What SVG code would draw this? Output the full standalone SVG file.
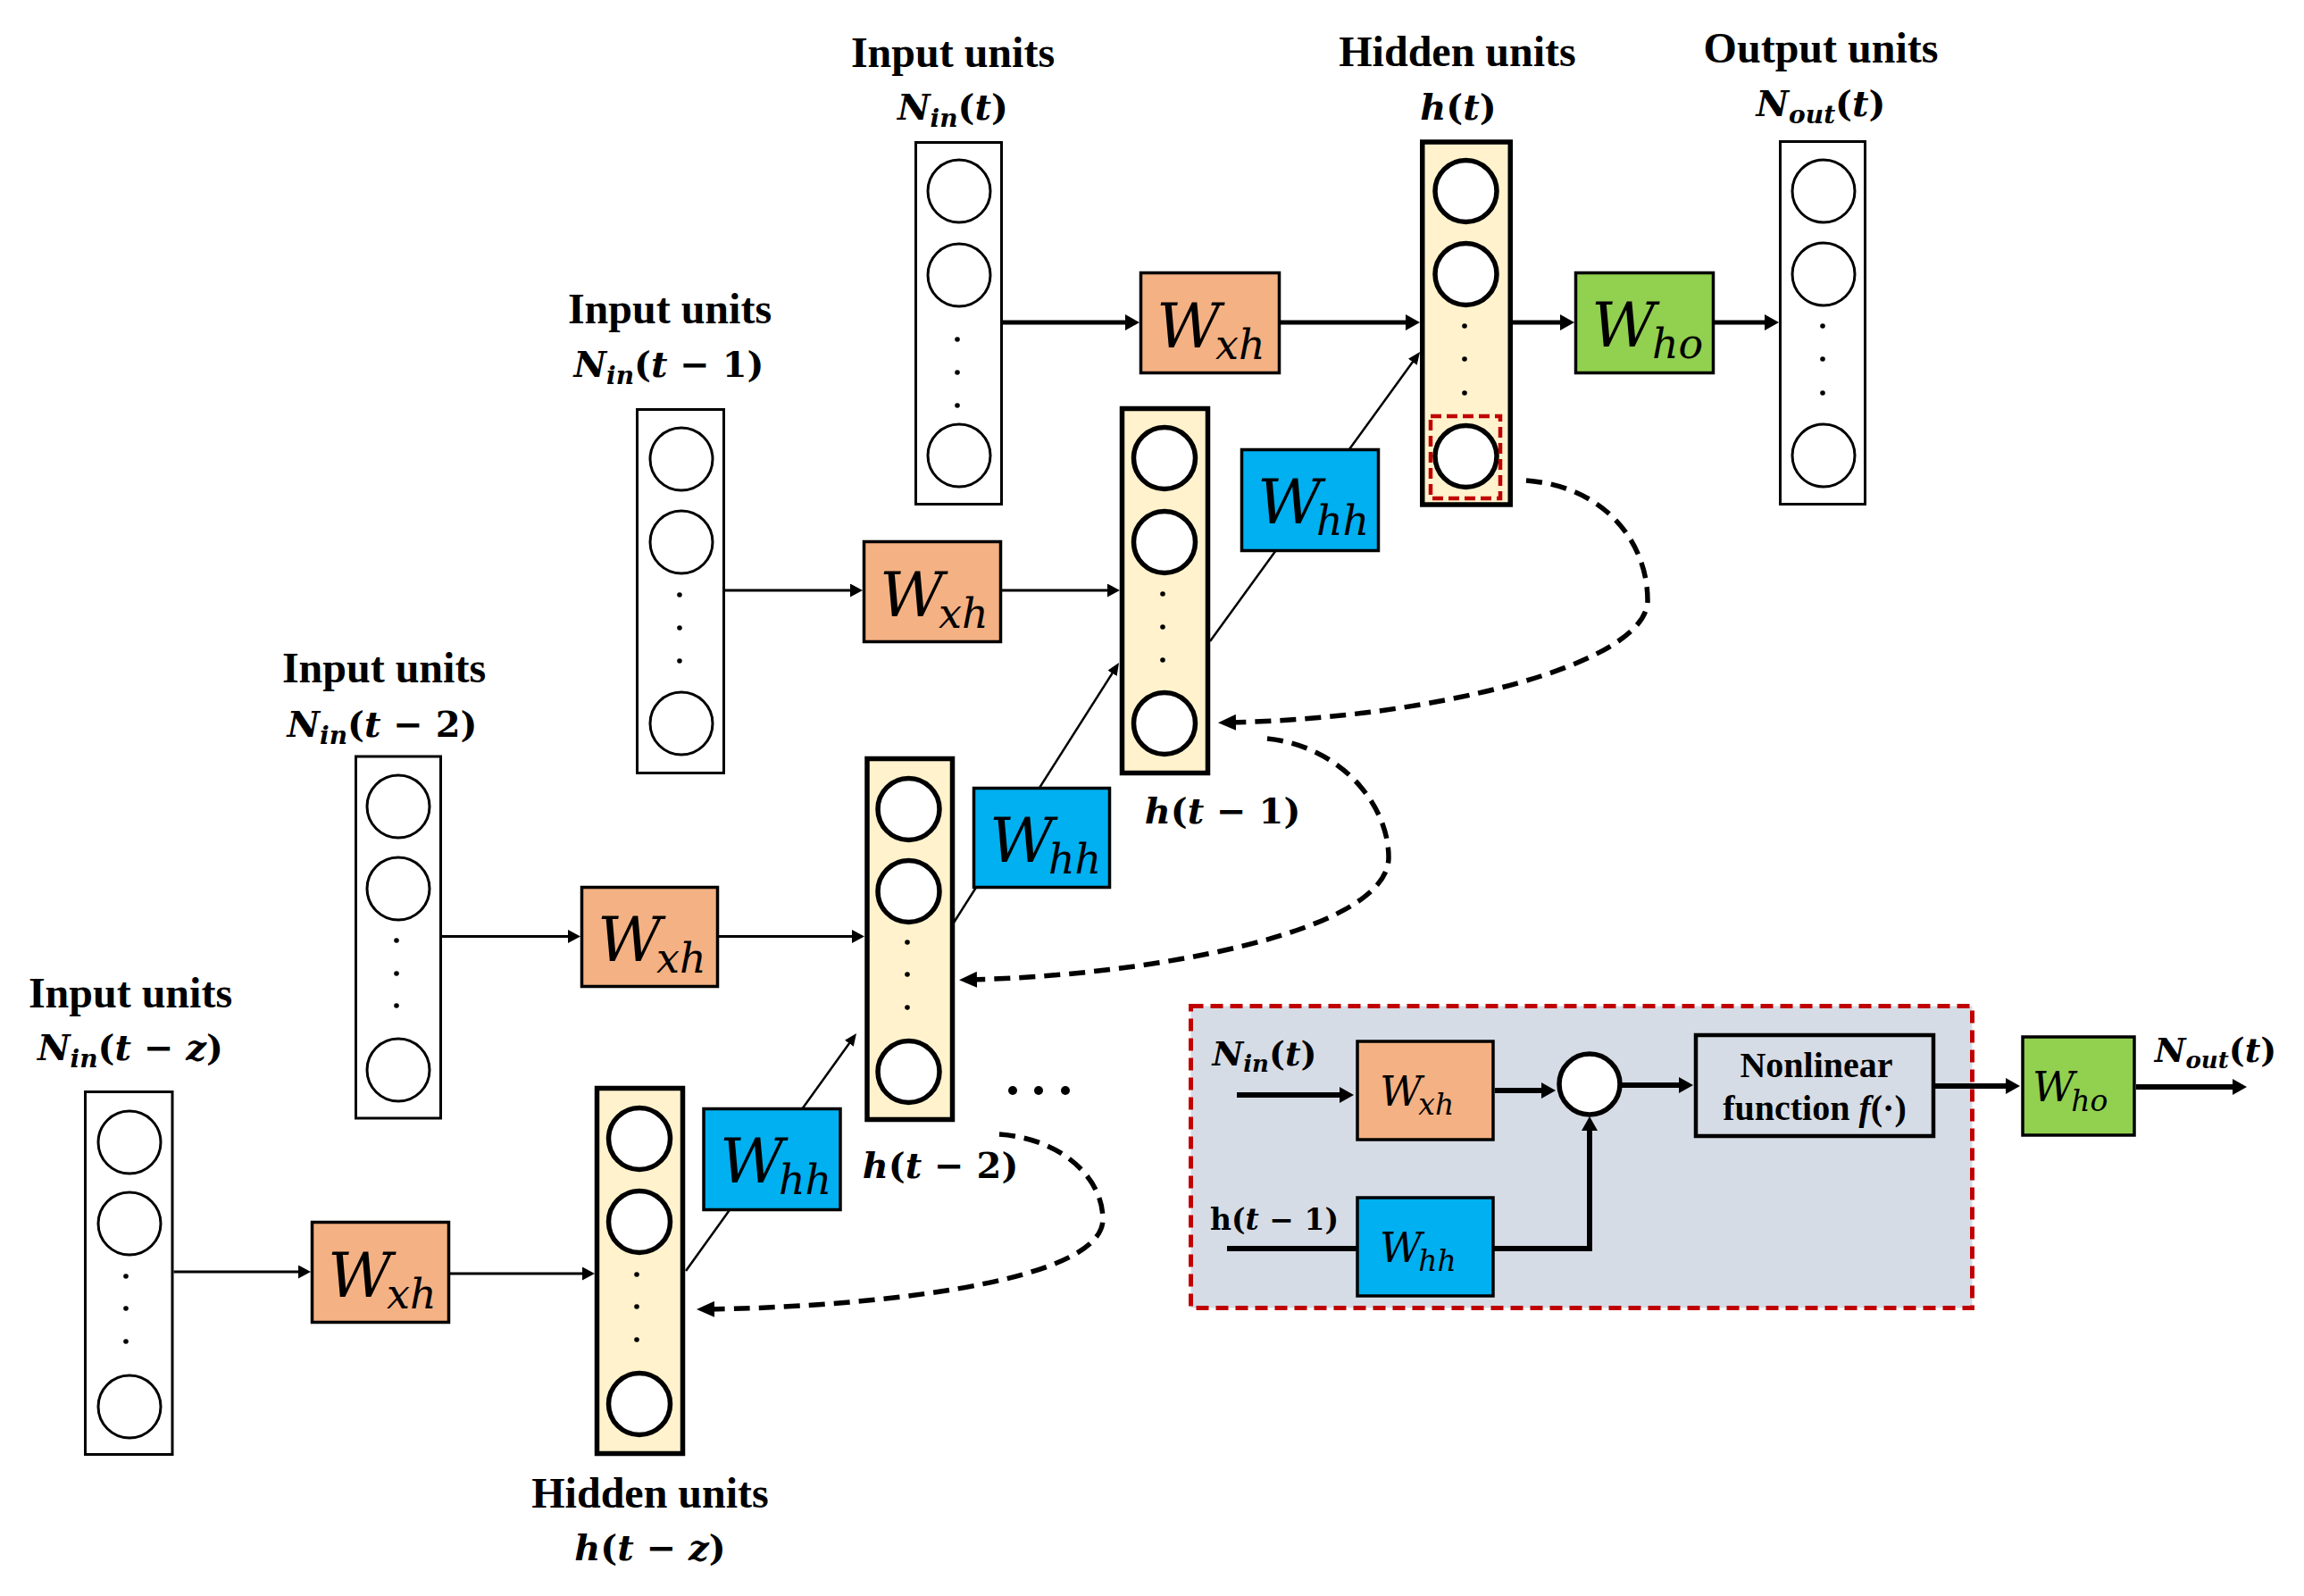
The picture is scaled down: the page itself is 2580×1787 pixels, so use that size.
<svg xmlns="http://www.w3.org/2000/svg" width="2580" height="1787" viewBox="0 0 2580 1787">
<defs>
<style>
.in{fill:#fff;stroke:#000;stroke-width:3}
.hid{fill:#FFF2CC;stroke:#000;stroke-width:5.5}
.ci{fill:#fff;stroke:#000;stroke-width:3}
.ch{fill:#fff;stroke:#000;stroke-width:5.5}
.dot{fill:#000}
.wxh{fill:#F4B183;stroke:#000;stroke-width:3.5}
.whh{fill:#00B0F0;stroke:#000;stroke-width:3.5}
.who{fill:#92D050;stroke:#000;stroke-width:3.5}
.lbl{font-family:"Liberation Serif","Times New Roman",serif;font-weight:bold;font-size:48px;text-anchor:middle;fill:#000}
.m{font-family:"DejaVu Serif",serif;font-weight:bold;font-style:italic;font-size:40px;text-anchor:middle;fill:#000}
.mi{font-size:38px}
.mh{font-size:33px}
.up{font-style:normal}
.w{font-family:"DejaVu Serif",serif;font-style:italic;font-size:70px;fill:#000}
.ws{font-size:46px}
.wi{font-family:"DejaVu Serif",serif;font-style:italic;font-size:46px;fill:#000}
.wis{font-size:33px}
.thick{fill:none;stroke:#000;stroke-width:5}
.thin{fill:none;stroke:#000;stroke-width:3}
.slant{fill:none;stroke:#000;stroke-width:2.5}
.dash{fill:none;stroke:#000;stroke-width:5.5;stroke-dasharray:18 10}
.ins{fill:none;stroke:#000;stroke-width:6}
.red{fill:none;stroke:#C00000;stroke-width:4.5;stroke-dasharray:12 6}
.nl{font-family:"Liberation Serif","Times New Roman",serif;font-weight:bold;font-size:40px;text-anchor:middle;fill:#000}
</style>
<marker id="ab" viewBox="0 0 16 18" refX="8" refY="9" markerWidth="16" markerHeight="18" markerUnits="userSpaceOnUse" orient="auto"><path d="M0,0 L16,9 L0,18 z" fill="#000"/></marker>
<marker id="am" viewBox="0 0 14 15" refX="8" refY="7.5" markerWidth="14" markerHeight="15" markerUnits="userSpaceOnUse" orient="auto"><path d="M0,0 L14,7.5 L0,15 z" fill="#000"/></marker>
<marker id="as" viewBox="0 0 14 12" refX="10" refY="6" markerWidth="14" markerHeight="12" markerUnits="userSpaceOnUse" orient="auto"><path d="M0,0 L14,6 L0,12 z" fill="#000"/></marker>
<marker id="ad" viewBox="0 0 20 18" refX="10" refY="9" markerWidth="20" markerHeight="18" markerUnits="userSpaceOnUse" orient="auto"><path d="M0,0 L20,9 L0,18 z" fill="#000"/></marker>
</defs>
<rect width="2580" height="1787" fill="#fff"/>

<g id="connectors">
<path class="thick" d="M1123,361 H1268" marker-end="url(#ab)"/>
<path class="thick" d="M1434,361 H1582" marker-end="url(#ab)"/>
<path class="thick" d="M1694,361 H1755" marker-end="url(#ab)"/>
<path class="thick" d="M1920,361 H1984" marker-end="url(#ab)"/>
<path class="thin" d="M812,661 H960" marker-end="url(#am)"/>
<path class="thin" d="M1122,661 H1248" marker-end="url(#am)"/>
<path class="thin" d="M495,1048.5 H644" marker-end="url(#am)"/>
<path class="thin" d="M804,1048.5 H962" marker-end="url(#am)"/>
<path class="thin" d="M194.5,1424 H342" marker-end="url(#am)"/>
<path class="thin" d="M504,1426 H660" marker-end="url(#am)"/>
<path class="slant" d="M1355,718 L1587.7,397.2" marker-end="url(#as)"/>
<path class="slant" d="M1068,1033 L1250.9,745.4" marker-end="url(#as)"/>
<path class="slant" d="M768,1423 L956.7,1160.2" marker-end="url(#as)"/>
<path class="dash" d="M1709,538 C1800,545 1845,610 1845,672 C1845,745 1600,805 1374,809" marker-end="url(#ad)"/>
<path class="dash" d="M1419,827 C1500,835 1555,900 1555,960 C1555,1045 1280,1093 1084,1097" marker-end="url(#ad)"/>
<path class="dash" d="M1119,1270 C1190,1275 1235,1320 1235,1365 C1235,1440 950,1464 790,1466" marker-end="url(#ad)"/>
</g>

<g id="input-t">
<text class="lbl" x="1067" y="75">Input units</text>
<text class="m" x="1067" y="134">N<tspan font-size="28" dy="8">in</tspan><tspan class="up" dy="-8">(</tspan>t<tspan class="up">)</tspan></text>
<rect class="in" x="1025.5" y="159.5" width="96" height="405"/>
<circle class="ci" cx="1074" cy="214" r="35"/>
<circle class="ci" cx="1074" cy="308" r="35"/>
<circle class="ci" cx="1074" cy="510" r="35"/>
<circle class="dot" cx="1072" cy="380" r="2.8"/><circle class="dot" cx="1072" cy="417" r="2.8"/><circle class="dot" cx="1072" cy="454" r="2.8"/>
</g>

<g id="wxh-t">
<rect class="wxh" x="1277.5" y="305.5" width="155" height="112"/>
<text class="w" x="1295" y="389">W<tspan class="ws" dx="-6" dy="13">xh</tspan></text>
</g>

<g id="hidden-t">
<text class="lbl" x="1632" y="74">Hidden units</text>
<text class="m" x="1633" y="134">h<tspan class="up">(</tspan>t<tspan class="up">)</tspan></text>
<rect class="hid" x="1592.75" y="159" width="98.5" height="406"/>
<circle class="ch" cx="1641.5" cy="214" r="34.5"/>
<circle class="ch" cx="1641.5" cy="307" r="34.5"/>
<circle class="ch" cx="1641.5" cy="511" r="34.5"/>
<circle class="dot" cx="1640" cy="365" r="2.8"/><circle class="dot" cx="1640" cy="402" r="2.8"/><circle class="dot" cx="1640" cy="440" r="2.8"/>
<rect class="red" x="1602" y="466" width="78" height="92"/>
</g>

<g id="who-t">
<rect class="who" x="1764.5" y="305.5" width="154" height="112"/>
<text class="w" x="1782" y="388">W<tspan class="ws" dx="-4" dy="13">ho</tspan></text>
</g>

<g id="output-t">
<text class="lbl" x="2039" y="70">Output units</text>
<text class="m" x="2039" y="130">N<tspan font-size="28" dy="8">out</tspan><tspan class="up" dy="-8">(</tspan>t<tspan class="up">)</tspan></text>
<rect class="in" x="1993.5" y="158.5" width="95" height="406"/>
<circle class="ci" cx="2042" cy="214" r="35"/>
<circle class="ci" cx="2042" cy="307" r="35"/>
<circle class="ci" cx="2042" cy="510" r="35"/>
<circle class="dot" cx="2041" cy="365" r="2.8"/><circle class="dot" cx="2041" cy="402" r="2.8"/><circle class="dot" cx="2041" cy="440" r="2.8"/>
</g>

<g id="input-t1">
<text class="lbl" x="750" y="362">Input units</text>
<text class="m" x="749" y="422">N<tspan font-size="28" dy="8">in</tspan><tspan class="up" dy="-8">(</tspan>t<tspan class="up"> − 1)</tspan></text>
<rect class="in" x="713.5" y="458.5" width="97" height="407"/>
<circle class="ci" cx="763" cy="514" r="35"/>
<circle class="ci" cx="763" cy="607" r="35"/>
<circle class="ci" cx="763" cy="810" r="35"/>
<circle class="dot" cx="761" cy="666" r="2.8"/><circle class="dot" cx="761" cy="703" r="2.8"/><circle class="dot" cx="761" cy="740" r="2.8"/>
</g>

<g id="wxh-t1">
<rect class="wxh" x="967.5" y="606.5" width="153" height="112"/>
<text class="w" x="985" y="690">W<tspan class="ws" dx="-6" dy="13">xh</tspan></text>
</g>

<g id="hidden-t1">
<rect class="hid" x="1256.5" y="457.5" width="96" height="408"/>
<circle class="ch" cx="1304" cy="513" r="34.5"/>
<circle class="ch" cx="1304" cy="607" r="34.5"/>
<circle class="ch" cx="1304" cy="810" r="34.5"/>
<circle class="dot" cx="1302" cy="665" r="2.8"/><circle class="dot" cx="1302" cy="702" r="2.8"/><circle class="dot" cx="1302" cy="739" r="2.8"/>
<text class="m" x="1369" y="922">h<tspan class="up">(</tspan>t<tspan class="up"> − 1)</tspan></text>
</g>

<g id="whh-t1">
<rect class="whh" x="1390.5" y="503.5" width="153" height="113"/>
<text class="w" x="1408" y="586">W<tspan class="ws" dx="-6" dy="13">hh</tspan></text>
</g>

<g id="input-t2">
<text class="lbl" x="430" y="764">Input units</text>
<text class="m" x="428" y="825">N<tspan font-size="28" dy="8">in</tspan><tspan class="up" dy="-8">(</tspan>t<tspan class="up"> − 2)</tspan></text>
<rect class="in" x="398.5" y="847" width="95" height="405"/>
<circle class="ci" cx="446" cy="903" r="35"/>
<circle class="ci" cx="446" cy="995" r="35"/>
<circle class="ci" cx="446" cy="1198" r="35"/>
<circle class="dot" cx="444" cy="1053" r="2.8"/><circle class="dot" cx="444" cy="1090" r="2.8"/><circle class="dot" cx="444" cy="1126" r="2.8"/>
</g>

<g id="wxh-t2">
<rect class="wxh" x="651.5" y="993.5" width="152" height="111"/>
<text class="w" x="669" y="1076">W<tspan class="ws" dx="-6" dy="13">xh</tspan></text>
</g>

<g id="hidden-t2">
<rect class="hid" x="971" y="849.5" width="95.5" height="404"/>
<circle class="ch" cx="1017.5" cy="906" r="34.5"/>
<circle class="ch" cx="1017.5" cy="998" r="34.5"/>
<circle class="ch" cx="1017.5" cy="1200" r="34.5"/>
<circle class="dot" cx="1016" cy="1055" r="2.8"/><circle class="dot" cx="1016" cy="1091" r="2.8"/><circle class="dot" cx="1016" cy="1128" r="2.8"/>
<text class="m" x="1053" y="1319">h<tspan class="up">(</tspan>t<tspan class="up"> − 2)</tspan></text>
</g>

<g id="whh-t2">
<rect class="whh" x="1090.5" y="882.5" width="152" height="111"/>
<text class="w" x="1108" y="965">W<tspan class="ws" dx="-6" dy="13">hh</tspan></text>
</g>

<g id="ellipsis">
<circle class="dot" cx="1134" cy="1221" r="5"/><circle class="dot" cx="1163" cy="1221" r="5"/><circle class="dot" cx="1193" cy="1221" r="5"/>
</g>

<g id="input-tz">
<text class="lbl" x="146" y="1128">Input units</text>
<text class="m" x="146" y="1187">N<tspan font-size="28" dy="8">in</tspan><tspan class="up" dy="-8">(</tspan>t<tspan class="up"> − </tspan>z<tspan class="up">)</tspan></text>
<rect class="in" x="95.5" y="1222.5" width="97.5" height="406"/>
<circle class="ci" cx="145" cy="1279" r="35"/>
<circle class="ci" cx="145" cy="1370" r="35"/>
<circle class="ci" cx="145" cy="1575" r="35"/>
<circle class="dot" cx="141" cy="1429" r="2.8"/><circle class="dot" cx="141" cy="1465" r="2.8"/><circle class="dot" cx="141" cy="1502" r="2.8"/>
</g>

<g id="wxh-tz">
<rect class="wxh" x="349.5" y="1368.5" width="153" height="112"/>
<text class="w" x="367" y="1452">W<tspan class="ws" dx="-6" dy="13">xh</tspan></text>
</g>

<g id="hidden-tz">
<rect class="hid" x="668.5" y="1218.5" width="96" height="409"/>
<circle class="ch" cx="716" cy="1275" r="34.5"/>
<circle class="ch" cx="716" cy="1368" r="34.5"/>
<circle class="ch" cx="716" cy="1572" r="34.5"/>
<circle class="dot" cx="713" cy="1427" r="2.8"/><circle class="dot" cx="713" cy="1463" r="2.8"/><circle class="dot" cx="713" cy="1500" r="2.8"/>
<text class="lbl" x="728" y="1688">Hidden units</text>
<text class="m" x="728" y="1747">h<tspan class="up">(</tspan>t<tspan class="up"> − </tspan>z<tspan class="up">)</tspan></text>
</g>

<g id="whh-tz">
<rect class="whh" x="788" y="1241.5" width="153" height="113"/>
<text class="w" x="806" y="1324">W<tspan class="ws" dx="-6" dy="13">hh</tspan></text>
</g>

<g id="inset">
<rect x="1333.5" y="1126.5" width="875" height="338" fill="#D6DCE5" stroke="#C00000" stroke-width="5" stroke-dasharray="14 8"/>
<g id="inset-connectors">
<path class="ins" d="M1385,1226 H1508" marker-end="url(#ab)"/>
<path class="ins" d="M1674,1221 H1734" marker-end="url(#ab)"/>
<path class="ins" d="M1816,1215 H1888" marker-end="url(#ab)"/>
<path class="ins" d="M2167,1216 H2254" marker-end="url(#ab)"/>
<path class="ins" d="M2392,1217 H2508" marker-end="url(#ab)"/>
<path class="ins" d="M1374,1398 H1520"/>
<path class="ins" d="M1672,1398 H1780 V1258" marker-end="url(#ab)"/>
</g>
<text class="m mi" x="1416" y="1193">N<tspan font-size="26" dy="7">in</tspan><tspan class="up" dy="-7">(</tspan>t<tspan class="up">)</tspan></text>
<text class="m mh" x="1427" y="1377"><tspan class="up">h(</tspan>t<tspan class="up"> − 1)</tspan></text>
<g id="inset-wxh">
<rect class="wxh" x="1520" y="1166" width="152" height="110" stroke-width="4.5"/>
<text class="wi" x="1545" y="1238">W<tspan class="wis" dx="-4" dy="10">xh</tspan></text>
</g>
<g id="inset-whh">
<rect class="whh" x="1520" y="1341" width="152" height="110" stroke-width="4.5"/>
<text class="wi" x="1545" y="1413">W<tspan class="wis" dx="-4" dy="10">hh</tspan></text>
</g>
<g id="inset-sum">
<circle cx="1780" cy="1214" r="34" fill="#fff" stroke="#000" stroke-width="5.5"/>
</g>
<g id="inset-nonlinear">
<rect x="1899" y="1159" width="266" height="113" fill="#D6DCE5" stroke="#000" stroke-width="4.5"/>
<text class="nl" x="2034" y="1206">Nonlinear</text>
<text class="nl" x="2032" y="1254">function <tspan font-style="italic">f</tspan>(·)</text>
</g>
<g id="inset-who">
<rect class="who" x="2265" y="1161" width="125" height="110" stroke-width="4.5"/>
<text class="wi" x="2276" y="1233">W<tspan class="wis" dx="-4" dy="11">ho</tspan></text>
</g>
<text class="m mi" x="2481" y="1189">N<tspan font-size="26" dy="7">out</tspan><tspan class="up" dy="-7">(</tspan>t<tspan class="up">)</tspan></text>
</g>
</svg>
